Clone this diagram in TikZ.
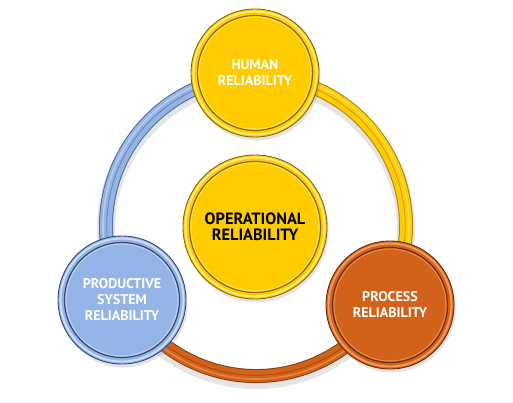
\documentclass[tikz,border=0pt]{standalone}
\usepackage{fontspec}
\setmainfont{PT Sans}
\usetikzlibrary{shadows}

\definecolor{gold}{RGB}{255,204,0}
\definecolor{golddark}{RGB}{140,100,0}
\definecolor{goldlight}{RGB}{255,236,120}
\definecolor{sky}{RGB}{148,179,230}
\definecolor{skydark}{RGB}{55,72,110}
\definecolor{skylight}{RGB}{205,222,248}
\definecolor{rust}{RGB}{210,98,26}
\definecolor{rustdark}{RGB}{105,42,5}
\definecolor{rustlight}{RGB}{242,155,95}

\tikzset{
  bubble/.style={circle, minimum size=2.56cm, inner sep=0pt, draw=#1dark,
    fill=#1, line width=0.5pt, align=center, text=white,
    drop shadow={opacity=0.22, shadow xshift=0.03cm, shadow yshift=-0.07cm},
    font=\bfseries\fontsize{8}{9.1}\selectfont},
  hubbubble/.style={bubble=#1, minimum size=2.88cm, text=black,
    font=\bfseries\fontsize{9.3}{9}\selectfont}
}

% rim of a bubble: highlight, groove, highlight
\newcommand{\rim}[3]{%
  \draw[#3light, line width=1.1pt] (#1.center) circle (#2-0.05);
  \draw[#3dark, line width=0.7pt] (#1.center) circle (#2-0.13);
  \draw[#3light!70!#3, line width=0.6pt] (#1.center) circle (#2-0.16);
}

% one coloured piece of the ring
\newcommand{\band}[3]{%
  \draw[black, opacity=0.1, line width=0.36cm] ([yshift=-0.08cm]hub) ++(#1:3) arc[start angle=#1, end angle=#2, radius=3];
  \draw[#3dark!70!#3, line width=0.28cm] (hub) ++(#1:3) arc[start angle=#1, end angle=#2, radius=3];
  \draw[#3, line width=0.24cm] (hub) ++(#1:3) arc[start angle=#1, end angle=#2, radius=3];
  \draw[#3light!60!#3, line width=0.9pt] (hub) ++(#1:3.06) arc[start angle=#1, end angle=#2, radius=3.06];
  \draw[#3dark!45!#3, line width=0.45pt] (hub) ++(#1:2.985) arc[start angle=#1, end angle=#2, radius=2.985];
}

\begin{document}
\begin{tikzpicture}
  \useasboundingbox (0,0) rectangle (10.26,8.04);
  \coordinate (hub) at (5.12,3.52);

  % ring
  \band{90}{209}{sky}
  \band{90}{-30}{gold}
  \band{209}{330}{rust}

  % bubbles
  \node[hubbubble=gold] (operational) at (5.10,3.50) {OPERATIONAL\\RELIABILITY};
  \rim{operational}{1.44}{gold}
  \node[bubble=gold] (human) at (5.10,6.58) {HUMAN\\RELIABILITY};
  \rim{human}{1.28}{gold}
  \node[bubble=sky] (productive) at (2.44,2.04) {PRODUCTIVE\\SYSTEM\\RELIABILITY};
  \rim{productive}{1.28}{sky}
  \node[bubble=rust] (process) at (7.80,1.94) {PROCESS\\RELIABILITY};
  \rim{process}{1.28}{rust}
\end{tikzpicture}
\end{document}
